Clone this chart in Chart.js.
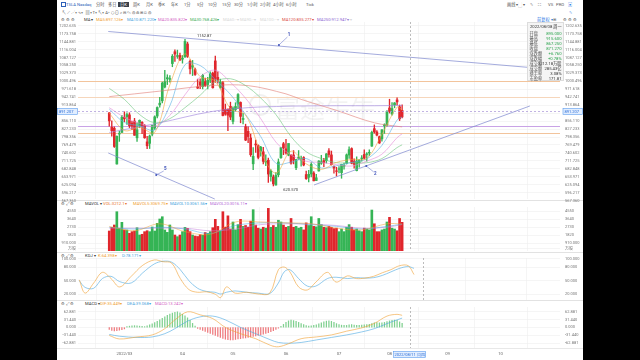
<!DOCTYPE html>
<html>
<head>
<meta charset="utf-8">
<script src="https://cdn.jsdelivr.net/npm/chart.js@4.4.1/dist/chart.umd.min.js"></script>
<style>
html,body{margin:0;padding:0;background:#000;width:640px;height:360px;overflow:hidden}
#app{position:absolute;left:57px;top:0;width:526px;height:360px;background:#fff;overflow:hidden;font-family:Roboto,"Noto Sans CJK SC",sans-serif}
canvas{position:absolute;left:0}
.t{position:absolute;font-size:4.2px;line-height:5px;white-space:nowrap;color:#555}
.strip{position:absolute;left:0;width:526px;border-top:0.6px solid #e2e2e2;background:#fff}
#info{position:absolute;left:470px;top:22px;width:36.5px;height:59px;background:#f5f5f5;border:0.6px solid #dcdcdc;box-sizing:border-box}
</style>
</head>
<body>
<div id="app">
  <!-- top bars -->
  <div class="t" style="left:4px;top:2px;width:3px;height:3px;border:0.6px solid #2c5fb8"></div>
  <div class="t" style="left:9px;top:1.5px;color:#2c5fb8">TSLA Nasdaq</div>
  <div class="t" style="left:39px;top:1.5px">分时</div>
  <div class="t" style="left:51px;top:1.5px">多日</div>
  <div class="t" style="left:61px;top:1.5px;background:#3a3f4a;color:#fff;padding:0 2px">日K</div>
  <div class="t" style="left:76px;top:1.5px">周K</div>
  <div class="t" style="left:89px;top:1.5px">月K</div>
  <div class="t" style="left:101px;top:1.5px">季K</div>
  <div class="t" style="left:114px;top:1.5px">年K</div>
  <div class="t" style="left:127px;top:1.5px">1分</div>
  <div class="t" style="left:140px;top:1.5px">5分</div>
  <div class="t" style="left:151px;top:1.5px">10分</div>
  <div class="t" style="left:165px;top:1.5px">15分</div>
  <div class="t" style="left:177px;top:1.5px">30分</div>
  <div class="t" style="left:190px;top:1.5px">1小时</div>
  <div class="t" style="left:203px;top:1.5px">2小时</div>
  <div class="t" style="left:216px;top:1.5px">4小时</div>
  <div class="t" style="left:229px;top:1.5px">6小时</div>
  <div class="t" style="left:249px;top:1.5px">Tick</div>
  <div class="t" style="left:450px;top:1.5px">画线 ▾</div>
  <div class="t" style="left:461px;top:1.5px">⬚ ▾</div>
  <div class="t" style="left:473px;top:1.5px">✎</div>
  <div class="t" style="left:481px;top:1.5px">⛶</div>
  <div class="t" style="left:491px;top:1.5px">VS</div>
  <div class="t" style="left:499px;top:1.5px">PRO</div>
  <div class="t" style="left:511px;top:1.5px;color:#2c7be5">▣</div>

  <div class="t" style="left:5px;top:9.5px">↖ ⟋ ⋰▾ ∿▾ &nbsp;▤▾ T▾ ↖▾ A⁺ ⬡ ⊙ ⌕ ⊟ ✎ ⚙ ⋒ ⊞ ⊡ ⚙</div>
  <div class="t" style="left:512px;top:9.5px;color:#2c7be5">✎</div>

  <div class="t" style="left:4px;top:16.5px">⚙ ⚙ ⚙</div>
  <div class="t" style="left:27px;top:16.5px;color:#333">MA ▾</div>
  <div class="t" style="left:39px;top:16.5px;color:#f0a030">MA5:897.126▾</div>
  <div class="t" style="left:70px;top:16.5px;color:#3fa2dc">MA10:871.220▾</div>
  <div class="t" style="left:101px;top:16.5px;color:#d35fc4">MA20:835.822▾</div>
  <div class="t" style="left:133px;top:16.5px;color:#3fae5a">MA30:768.426▾</div>
  <div class="t" style="left:166px;top:16.5px;color:#d6d6d6">MA60:--▾</div>
  <div class="t" style="left:183px;top:16.5px;color:#d6d6d6">MA90:--▾</div>
  <div class="t" style="left:203px;top:16.5px;color:#d6d6d6">MA100:--▾</div>
  <div class="t" style="left:225px;top:16.5px;color:#d8433d">MA120:835.277▾</div>
  <div class="t" style="left:260px;top:16.5px;color:#8a63d2">MA250:912.947▾</div>
  <div class="t" style="left:291px;top:16.5px;color:#d6d6d6">--▾</div>
  <div class="t" style="left:480px;top:16.5px;color:#2c7be5">前复权 ▾</div>
  <div class="t" style="left:496px;top:16.5px">⊞</div>
  <div class="t" style="left:506px;top:16.5px">⚙ ⚙ ⚙</div>

  <!-- sub panel header strips -->
  <div class="strip" style="top:199.5px;height:7px"></div>
  <div class="t" style="left:4px;top:201px">⚙ ⤢ ⚙</div>
  <div class="t" style="left:28px;top:201px;color:#333">MAVOL ▾</div>
  <div class="t" style="left:46px;top:201px;color:#e8702a">VOL:3212.1▾</div>
  <div class="t" style="left:76px;top:201px;color:#f0a030">MAVOL5:3069.75▾</div>
  <div class="t" style="left:113px;top:201px;color:#3fa2dc">MAVOL10:3061.56▾</div>
  <div class="t" style="left:153px;top:201px;color:#b56ad6">MAVOL20:3016.11▾</div>

  <div class="strip" style="top:251.5px;height:6px"></div>
  <div class="t" style="left:4px;top:252.5px">⚙ ⤢ ⚙</div>
  <div class="t" style="left:28px;top:252.5px;color:#333">KDJ ▾</div>
  <div class="t" style="left:41px;top:252.5px;color:#f0a030">K:64.398▾</div>
  <div class="t" style="left:65px;top:252.5px;color:#3fa2dc">D:78.171▾</div>

  <div class="strip" style="top:299.5px;height:7px"></div>
  <div class="t" style="left:4px;top:301px">⚙ ⤢ ⚙</div>
  <div class="t" style="left:28px;top:301px;color:#333">MACD ▾</div>
  <div class="t" style="left:43px;top:301px;color:#f0a030">DIF:35.449▾</div>
  <div class="t" style="left:70px;top:301px;color:#3fa2dc">DEA:39.068▾</div>
  <div class="t" style="left:98px;top:301px;color:#d35fc4">MACD:13.242▾</div>

  <div class="strip" style="top:348px;height:12px;border-top-color:#e8e8e8"></div>

  <canvas id="main" width="526" height="183" style="top:19px"></canvas>
  <canvas id="vol" width="526" height="50" style="top:204px"></canvas>
  <canvas id="kdj" width="526" height="48" style="top:255px"></canvas>
  <canvas id="macd" width="526" height="56" style="top:304px"></canvas>

  <div id="info"></div>
</div>

<script>
// ---- data (index 0 = 2022/02/18, one slot per trading day) ----
const monthIdx = [6, 29, 49, 70, 91, 111, 134, 155];
const monthLabels = ['2022/03', '04', '05', '06', '07', '08', '09', '10'];
const crossIdx = 119;
const crossLabel = '2022/08/11 周四';
const crossPrice = 891.207;

const opens = [886,834.1,830.4,700.4,809.2,815,869.7,872.1,878.8,849.1,
856.3,795.5,839.5,851.5,840.2,780.6,775.3,809,831,874.5,
915,930,979.9,1009.7,1008,1065.1,1108,1091.2,1094.6,1081.2,
1089.4,1136.3,1073.5,1052.4,1043.2,980.4,997.6,981.1,999.3,989,
1005.1,1030.5,1074.7,1014.9,978,995.4,898.6,900,909.9,855,
898,918,924,862,836,819,795,701,773,767,
747,744.5,707,714,655,653.5,623.9,661.4,723.3,773.8,
755.2,732.6,732.6,733,687,720.3,715,723.8,662,652,
664,667.6,640.3,675,703,713,712.4,748.1,733.4,691.5,
673.5,681,669,692.3,702.6,733,756.3,710.5,676.5,704.7,
720,734.8,735,740.4,765.3,828.7,816.7,799.5,791.5,839.2,
842.1,903.8,882,915,933,908,895];
const highs = [886.9,856.7,835.3,802.5,819.5,876.9,889.9,886.5,886.4,855.7,
866.1,850,860.6,854.5,843.8,800.7,805.6,842,875,907.9,
942.9,997.9,1040.7,1024.5,1021.8,1097.9,1114.8,1114,1103.1,1094.8,
1152.9,1143,1079,1076.6,1048.4,1008.5,1009.5,1026.2,1012.7,1014.9,
1034.9,1034,1092.2,1034.9,1008.6,1000,918,900,925,908,
923,956,926,885,845,835,809,759.7,787,769.8,
764.5,760.5,734,721.6,679.9,660.5,669.3,718.7,759.8,778.8,
789.8,773,734.5,749,716.7,749.2,729,727,675,677.6,
705.6,672.6,662.8,712.4,732,721,738.2,756.2,747.4,693.5,
688.4,690.7,699.4,703.7,737,763,759.2,719.3,726.2,715.2,
730.9,751.6,741.4,752,819.8,842.4,822,801.9,825.5,846.4,
894.8,935.6,923.5,923.5,940.8,914.7,915.6];
const lows = [837.6,801.1,760.6,700,782.4,814.7,853.8,844.3,832.6,825.2,
804.6,782.2,832,810.4,793.8,756,756.6,802.3,825.7,867.4,
907.1,921.8,976.4,988.8,997.3,1053.6,1073.1,1084,1076.6,1066.6,
1087.3,1087.3,1027.7,1021.5,1022.4,974.6,974.3,973.1,982.2,973.4,
995.3,975.3,996.4,994,975.3,875,877.4,821.7,861,846,
893,901,850,846,785,778,728,680,742,719,
728.9,700.8,694,633,638,620.6,623,653.6,720.5,734.3,
736,730,699.6,700.8,680,717.1,692,693.6,644,635.4,
653.4,639,639.6,674,699,691,703.8,725.4,696.4,666.8,
656.6,667.5,648.5,681.6,700.3,721,700.9,685.1,675.1,688.9,
710.4,718.8,710.9,730.5,764.6,812.1,802.1,775,783.3,811.5,
837.7,885.4,878,904.5,915,858,867.3];
const closes = [857,821.5,764,800.8,809.9,870.4,864.4,879.9,839.3,838.3,
804.6,824.4,859,838.3,795.4,766.4,801.9,840.2,871.6,905.4,
921.2,994,999.1,1013.9,1010.6,1091.8,1099.6,1094,1077.6,1084.6,
1145.5,1091.3,1045.8,1057.3,1025.5,975.9,987,1022.4,985,1004.3,
1028.2,977.2,1008.8,1005.1,998,876.4,881.5,877.5,870.8,902.9,
909.3,952.6,873.3,865.7,787.1,800,734,728,769.6,724.4,
761.6,709.8,709.4,663.9,674.9,628.2,658.8,707.7,759.6,758.3,
740.4,775,703.6,714.8,716.7,725.6,719.1,696.7,647.2,662.7,
699,639.3,650.3,711.1,708.3,705.2,737.1,734.8,698,685.5,
673.4,681.8,699.2,695.2,733.6,752.3,703,699.2,711.1,714.9,
720.2,721.6,736.6,742.5,815.1,816.7,805.3,776.6,824.5,842.7,
891.5,891.8,901.8,922.2,925.9,864.5,871.3];

const maDays = [0,6,12,18,24,30,36,42,48,54,60,66,72,78,84,90,96,102,108,114,116];
const ma5  = [885,822,833,815,988,1100,1018,1001,901,878,744,667,747,701,681,706,717,721,808,907,897];
const ma10 = [900,851,839,824,912,1061,1058,1007,953,880,800,703,707,720,686,694,706,719,768,860,871];
const ma20 = [905,870,848,838,877,952,1017,1041,997,939,865,780,733,710,706,698,693,711,736,796,810];
const ma30 = [975,935,880,850,865,905,950,1000,1010,985,940,880,800,745,720,705,705,705,720,760,770];
const longDays = [0,20,40,55,70,76,90,105,116];
const ma120 = [945,965,985,985,955,935,895,850,835];
const ma250 = [815,850,890,905,910,911,912,912,913];

const volume = [2275,2690,2960,4470,2580,3260,2390,2390,2010,2200,
2275,2650,1820,1900,2200,2310,2200,2730,2275,3150,
3640,3900,2390,2120,2960,2390,1820,1630,1820,2200,
2690,2580,2200,1820,1700,1650,1850,1800,2100,2000,
2200,2650,3600,2800,2300,4470,2700,4000,2500,3300,
2400,3000,3600,2800,2900,2700,3400,4700,2950,2600,
2500,2700,2600,4850,2700,2900,2700,3500,3300,2950,
2700,2800,3700,2700,2800,2600,2700,2400,3200,2900,
3900,2800,2750,3700,3000,2700,2650,2800,2700,2550,
2600,2200,2500,2200,2700,3000,2700,2400,2500,2300,
2200,2600,2500,2400,4660,3100,2200,2200,2400,2500,
3300,3830,2600,2500,2300,3700,3260];
const mavolDays = [0,10,20,30,40,50,60,70,80,90,100,110,116];
const mavol5  = [2800,2300,3100,2200,1900,3300,3300,3200,3100,2600,2400,3100,3070];
const mavol10 = [2700,2500,2700,2500,2000,2900,3200,3200,3000,2800,2500,2800,3060];
const mavol20 = [2600,2600,2600,2600,2300,2500,3000,3100,3050,2900,2600,2700,3016];

const kdjDays = [0,2,5,8,11,14,18,22,26,29,32,35,38,41,44,47,49,51,54,58,62,66,69,71,73,76,79,82,86,89,93,96,99,102,105,108,111,114,116];
const kLine = [52,22,45,69,55,36,60,85,97,93,90,55,30,24,25,20,12,36,22,24,20,22,75,81,70,36,29,47,69,47,61,55,56,60,68,75,84,84,64];
const dLine = [50,35,33,55,60,48,45,68,88,94,92,75,50,33,26,24,20,24,27,24,22,21,45,70,75,55,38,38,55,58,55,57,56,57,62,70,78,82,78];

const macdDays = [0,4,11,17,22,26,31,36,41,46,52,58,64,67,71,76,82,88,94,100,105,110,114,116];
const dif = [-32,-46,-38,-30,-5,30,62,50,35,0,-25,-45,-72,-77,-65,-45,-38,-30,-15,-2,16,45,52,48];
const dea = [-28,-35,-40,-38,-25,-5,25,42,45,30,0,-25,-50,-60,-63,-60,-50,-40,-30,-18,-5,15,30,37];
const macdHist = [-8,-12,-14,-13,-11,-9,-6,
3,5,6,7,6,5,4,3,
6,10,14,19,24,30,36,42,48,53,57,60,62,
58,52,46,38,28,16,5,
-4,-8,-12,-16,-20,-24,-28,-32,-36,-40,-44,-47,-49,-50,
-50,-48,-46,-45,-43,-42,-40,-38,-36,-34,-32,-30,-27,-24,-21,-17,-13,-8,-3,
4,12,20,26,29,27,24,20,15,11,7,5,6,8,10,14,18,22,25,26,
24,20,15,11,9,8,8,10,11,9,8,8,9,10,11,12,15,18,19,18,
18,20,23,26,28,29,28,22,16];

const mainTickLabels = ['1202.635','1173.758','1144.881','1116.004','1087.127','1058.250','1029.373','1000.496','971.618','942.741','913.864','884.987','856.110','827.233','798.356','769.479','740.602','711.725','682.848','653.971','625.094','596.217','567.360'];
const volTickLabels = ['4550','3640','2730','1820','910.000','万股'];
const volTickValues = [4550,3640,2730,1820,910,270];
const kdjTickLabels = ['100.000','80.000','50.000','20.000'];
const macdTickLabels = ['62.881','31.440','0.000','-31.440','-62.881'];

// drawn price levels and trend lines (index, price)
const levelPrices = [1002, 943, 837, 813];
const levelColors = ['#f2c49c', '#f6d6bb', '#c9a3e6', '#f2c49c'];
const trendLines = [
  {from: [-0.4, 1181.6], to: [166.6, 1050.8], dot: [67.2, 1132.5], label: '1', lab: [10, -10]},
  {from: [-0.4, 740.3], to: [41.8, 573.2], dot: [18.6, 660.4], label: '5', lab: [9, -6]},
  {from: [81.1, 624.1], to: [166.6, 911.0], dot: [101.8, 693.1], label: '2', lab: [9, 8]}
];
const infoRows = [['开盘','895.000'],['最高','915.600'],['最低','867.250'],['收盘','871.270'],['涨跌额','+6.760'],['涨跌幅','+0.78%'],['成交量','3212.18万股'],['成交额','285.43亿'],['换手率','3.08%'],['市盈率','171.81']];

// ---- setup ----
const RED = '#e0262c', GREEN = '#35b455';
const xMin = -0.45, xMax = 166.6;
Chart.defaults.font.family = 'Roboto, "Noto Sans CJK SC", sans-serif';
Chart.defaults.animation = false;
Chart.defaults.responsive = false;
Chart.defaults.events = [];
Chart.defaults.plugins.legend.display = false;
Chart.defaults.plugins.tooltip.enabled = false;

const idx = closes.map((_, i) => i);
const isUp = idx.map(i => closes[i] >= opens[i]);
const candleCol = isUp.map(u => u ? GREEN : RED);

function xAxis(show) {
  return {
    type: 'linear', min: xMin, max: xMax,
    afterBuildTicks: s => { s.ticks = monthIdx.map(v => ({value: v})); },
    afterFit: s => { s.height = show ? 12 : 0; s.paddingLeft = 0; s.paddingRight = 0; },
    ticks: {display: show, font: {size: 4.2}, color: '#666', padding: 3, autoSkip: false, maxRotation: 0,
      callback: (v, i) => monthLabels[i]},
    grid: {drawTicks: false, lineWidth: 0.6, color: '#efefef'},
    border: {display: false}
  };
}

function yAxes(labels, values, min, max) {
  const mk = pos => ({
    type: 'linear', position: pos, min: min, max: max,
    afterBuildTicks: s => { s.ticks = values.map(v => ({value: v})); },
    afterFit: s => { s.width = pos === 'left' ? 21 : 23; s.paddingTop = 0; s.paddingBottom = 0; },
    ticks: {font: {size: 4}, color: '#777', padding: pos === 'left' ? 2 : 5, autoSkip: false,
      callback: (v, i) => labels[i]},
    grid: {display: pos === 'left', drawTicks: false, lineWidth: 0.6,
      color: c => (c.tick && c.tick.value >= min && c.tick.value <= max) ? '#efefef' : 'rgba(0,0,0,0)'},
    border: {display: false}
  });
  return {y: mk('left'), yr: mk('right')};
}

function line(days, vals, color, width) {
  return {type: 'line', data: days.map((d, i) => ({x: d, y: vals[i]})), borderColor: color,
    borderWidth: width || 0.6, pointRadius: 0, tension: 0.35, order: 1, yAxisID: 'y'};
}

function crossV(chart) {
  const {ctx, chartArea: a, scales: {x}} = chart;
  const px = Math.round(x.getPixelForValue(crossIdx)) + 0.5;
  ctx.save();
  ctx.strokeStyle = '#a0a0a0'; ctx.lineWidth = 0.7; ctx.setLineDash([2, 2]);
  ctx.beginPath(); ctx.moveTo(px, a.top); ctx.lineTo(px, a.bottom); ctx.stroke();
  ctx.restore();
}

function tag(ctx, cx, cy, w, text, align) {
  ctx.fillStyle = '#e2eeff'; ctx.strokeStyle = '#5b9bef'; ctx.lineWidth = 0.6;
  ctx.fillRect(cx, cy - 3, w, 6); ctx.strokeRect(cx, cy - 3, w, 6);
  ctx.fillStyle = '#2f6fd6'; ctx.font = '4px Roboto'; ctx.textBaseline = 'middle'; ctx.textAlign = align;
  ctx.fillText(text, align === 'center' ? cx + w / 2 : cx + 1.5, cy + 0.3);
}

// ---- main candle chart ----
const mainMin = 573.21, mainMax = 1216.07;
const mainOverlay = {
  id: 'mainOverlay',
  beforeDatasetsDraw(chart) {
    const {ctx, chartArea: a, scales: {x, y}} = chart;
    ctx.save();
    ctx.beginPath(); ctx.rect(a.left, a.top, a.width, a.height); ctx.clip();
    // faint watermark
    ctx.fillStyle = 'rgba(0,0,0,0.05)'; ctx.strokeStyle = 'rgba(0,0,0,0.055)'; ctx.lineWidth = 2;
    ctx.beginPath(); ctx.arc(a.left + 182, a.top + 83, 10, 0, Math.PI * 2); ctx.stroke();
    ctx.font = '25px "Noto Sans CJK SC"'; ctx.textBaseline = 'middle'; ctx.textAlign = 'left';
    ctx.fillText('富途牛牛', a.left + 197, a.top + 86);
    levelPrices.forEach((p, i) => {
      const py = Math.round(y.getPixelForValue(p)) + 0.5;
      ctx.strokeStyle = levelColors[i]; ctx.lineWidth = 1;
      ctx.beginPath(); ctx.moveTo(a.left, py); ctx.lineTo(a.right, py); ctx.stroke();
    });
    ctx.restore();
  },
  afterDatasetsDraw(chart) {
    const {ctx, chartArea: a, scales: {x, y}} = chart;
    ctx.save();
    ctx.beginPath(); ctx.rect(a.left, a.top, a.width, a.height + 2); ctx.clip();
    trendLines.forEach(t => {
      ctx.strokeStyle = '#7c86cf'; ctx.lineWidth = 0.7;
      ctx.beginPath();
      ctx.moveTo(x.getPixelForValue(t.from[0]), y.getPixelForValue(t.from[1]));
      ctx.lineTo(x.getPixelForValue(t.to[0]), y.getPixelForValue(t.to[1]));
      ctx.stroke();
      const dx = x.getPixelForValue(t.dot[0]), dy = y.getPixelForValue(t.dot[1]);
      ctx.fillStyle = '#3b4fb8';
      ctx.beginPath(); ctx.arc(dx, dy, 1, 0, Math.PI * 2); ctx.fill();
      ctx.strokeStyle = '#5a68c8'; ctx.lineWidth = 0.5;
      ctx.beginPath(); ctx.moveTo(dx, dy); ctx.lineTo(dx + t.lab[0] - 1.5, dy + t.lab[1] + (t.lab[1] < 0 ? 2 : -2)); ctx.stroke();
      ctx.fillStyle = '#3b4fb8'; ctx.font = 'bold 4.5px Roboto'; ctx.textAlign = 'center'; ctx.textBaseline = 'middle';
      ctx.fillText(t.label, dx + t.lab[0], dy + t.lab[1]);
    });
    // high / low labels
    ctx.fillStyle = '#333'; ctx.font = '4px Roboto'; ctx.textAlign = 'left'; ctx.textBaseline = 'middle';
    const hi = highs.indexOf(Math.max(...highs)), lo = lows.indexOf(Math.min(...lows));
    ctx.fillText('1152.87', x.getPixelForValue(hi) + 12, y.getPixelForValue(highs[hi]) - 3.5);
    ctx.fillText('620.570', x.getPixelForValue(lo) + 10, y.getPixelForValue(lows[lo]) + 4);
    // crosshair
    const py = Math.round(y.getPixelForValue(crossPrice)) + 0.5;
    ctx.strokeStyle = '#a895d8'; ctx.lineWidth = 0.7; ctx.setLineDash([2, 2]);
    ctx.beginPath(); ctx.moveTo(a.left, py); ctx.lineTo(a.right, py); ctx.stroke();
    ctx.restore();
    crossV(chart);
  },
  afterDraw(chart) {
    const {ctx, chartArea: a, scales: {y}} = chart;
    const py = y.getPixelForValue(crossPrice);
    ctx.save();
    tag(ctx, 0.5, py, 20, crossPrice.toFixed(3), 'left');
    tag(ctx, a.right + 3, py, 19.5, crossPrice.toFixed(3), 'left');
    ctx.restore();
  }
};

const mainValues = mainTickLabels.map(parseFloat);
new Chart(document.getElementById('main'), {
  type: 'bar',
  data: {datasets: [
    line(maDays, ma5, '#f2a53a'),
    line(maDays, ma10, '#58b0e4'),
    line(maDays, ma20, '#e48ad6'),
    line(maDays, ma30, '#6cc47c'),
    line(longDays, ma120, '#e07a74'),
    line(longDays, ma250, '#9a7ddc'),
    {type: 'bar', data: idx.map(i => ({x: i, y: [lows[i], highs[i]]})), backgroundColor: candleCol,
      barThickness: 0.7, grouped: false, order: 3, yAxisID: 'y'},
    {type: 'bar', data: idx.map(i => ({x: i, y: [opens[i], closes[i]]})), backgroundColor: candleCol,
      barThickness: 2, minBarLength: 0.6, grouped: false, order: 2, yAxisID: 'y'}
  ]},
  options: {
    layout: {padding: {top: 3, bottom: 3}},
    scales: Object.assign({x: xAxis(false)}, yAxes(mainTickLabels, mainValues, mainMin, mainMax))
  },
  plugins: [mainOverlay]
});

// ---- volume ----
new Chart(document.getElementById('vol'), {
  type: 'bar',
  data: {datasets: [
    line(mavolDays, mavol5, '#f0a030', 0.5),
    line(mavolDays, mavol10, '#49a8e0', 0.5),
    line(mavolDays, mavol20, '#c07ad8', 0.5),
    {type: 'bar', data: idx.map(i => ({x: i, y: volume[i]})), backgroundColor: candleCol,
      barThickness: 2, order: 2, yAxisID: 'y'}
  ]},
  options: {
    layout: {padding: {top: 3, bottom: 3}},
    scales: Object.assign({x: xAxis(false)}, yAxes(volTickLabels, volTickValues, 0, 5005))
  },
  plugins: [{id: 'cv', afterDatasetsDraw: crossV}]
});

// ---- KDJ ----
new Chart(document.getElementById('kdj'), {
  type: 'line',
  data: {datasets: [
    line(kdjDays, kLine, '#f0a030', 0.6),
    line(kdjDays, dLine, '#49a8e0', 0.6)
  ]},
  options: {
    layout: {padding: {top: 3, bottom: 3}},
    scales: Object.assign({x: xAxis(false)}, yAxes(kdjTickLabels, kdjTickLabels.map(parseFloat), 6.5, 101.4))
  },
  plugins: [{id: 'cv', afterDatasetsDraw: crossV}]
});

// ---- MACD ----
new Chart(document.getElementById('macd'), {
  type: 'bar',
  data: {datasets: [
    line(macdDays, dif, '#f0a030', 0.6),
    line(macdDays, dea, '#49a8e0', 0.6),
    {type: 'bar', data: idx.map(i => ({x: i, y: macdHist[i]})),
      backgroundColor: macdHist.map(v => v >= 0 ? '#7fd08f' : '#ee7a7e'),
      barThickness: 0.6, order: 2, yAxisID: 'y'}
  ]},
  options: {
    layout: {padding: {top: 3, bottom: 0}},
    scales: Object.assign({x: xAxis(true)}, yAxes(macdTickLabels, macdTickLabels.map(parseFloat), -82, 81.2))
  },
  plugins: [{id: 'cv', afterDatasetsDraw: crossV,
    afterDraw(chart) {
      const {ctx, chartArea: a, scales: {x}} = chart;
      const px = x.getPixelForValue(crossIdx);
      ctx.save();
      tag(ctx, px - 16, a.bottom + 6.5, 32, crossLabel, 'center');
      ctx.restore();
    }}]
});

// ---- info panel ----
const info = document.getElementById('info');
let html = '<div class="t" style="left:2px;top:0.5px;color:#333">2022/08/08 周一</div>';
infoRows.forEach((r, i) => {
  const top = 7.8 + i * 5;
  const col = i < 6 ? '#27a24a' : '#333';
  html += '<div class="t" style="left:1.5px;top:' + top + 'px">' + r[0] + '</div>';
  html += '<div class="t" style="right:1px;top:' + top + 'px;color:' + col + '">' + r[1] + '</div>';
});
info.innerHTML = html;
</script>
</body>
</html>
